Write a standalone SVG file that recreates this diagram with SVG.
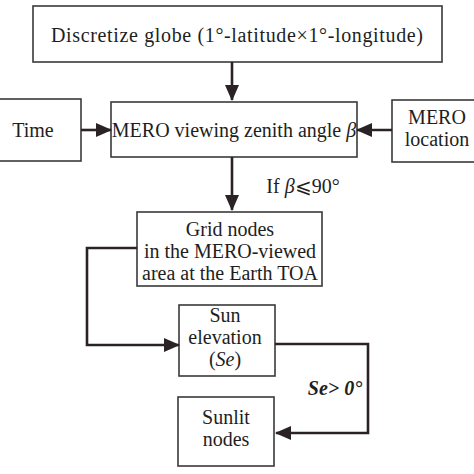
<svg xmlns="http://www.w3.org/2000/svg" width="474" height="474" viewBox="0 0 474 474">
<style>
.box{fill:#fff;stroke:#3a3a3a;stroke-width:1.6}
.t{font-family:"Liberation Serif","DejaVu Serif",serif;font-size:20px;fill:#1e1e1e;text-anchor:middle}
.c{fill:none;stroke:#2a2224;stroke-width:2.6}
</style>
<defs>
<marker id="ah2" markerWidth="16" markerHeight="14" refX="15" refY="7" orient="auto" markerUnits="userSpaceOnUse" viewBox="0 0 16 14">
<path d="M0,0 L16,7 L0,14 Z" fill="#2a2224"/>
</marker>
</defs>
<rect width="474" height="474" fill="#fff"/>
<g id="n1"><rect class="box" x="33" y="6" width="409" height="56"/><text class="t" x="237" y="42" textLength="372" lengthAdjust="spacing">Discretize globe (1°-latitude×1°-longitude)</text></g>
<g id="n2"><rect class="box" x="111" y="102" width="246" height="55"/><text class="t" x="234" y="137">MERO viewing zenith angle <tspan font-style="italic">β</tspan></text></g>
<g id="n3"><rect class="box" x="-2" y="99" width="83" height="62"/><text class="t" x="33" y="137">Time</text></g>
<g id="n4"><rect class="box" x="392" y="100" width="90" height="62"/><text class="t" x="437" y="124">MERO</text><text class="t" x="437" y="146">location</text></g>
<g id="n5"><rect class="box" x="137" y="212" width="185" height="74"/><text class="t" x="230" y="236">Grid nodes</text><text class="t" x="230" y="258">in the MERO-viewed</text><text class="t" x="230" y="280">area at the Earth TOA</text></g>
<g id="n6"><rect class="box" x="179" y="305" width="96" height="71"/><text class="t" x="225" y="322">Sun</text><text class="t" x="225" y="344">elevation</text><text class="t" x="225" y="366">(<tspan font-style="italic">Se</tspan>)</text></g>
<g id="n7"><rect class="box" x="178" y="397" width="96" height="69"/><text class="t" x="226" y="424">Sunlit</text><text class="t" x="226" y="446">nodes</text></g>
<g id="connectors">
<path class="c" d="M232,62 V100" marker-end="url(#ah2)"/>
<path class="c" d="M81,130 H111" marker-end="url(#ah2)"/>
<path class="c" d="M392,130 H357" marker-end="url(#ah2)"/>
<path class="c" d="M232,157 V210" marker-end="url(#ah2)"/>
<path class="c" d="M137,248 H87 V345 H179" marker-end="url(#ah2)"/>
<path class="c" d="M275,344 H368 V433 H276" marker-end="url(#ah2)"/>
</g>
<text class="t" x="303" y="193" font-size="21">If <tspan font-style="italic">β</tspan>⩽90°</text>
<text class="t" x="335" y="395" font-weight="bold" font-style="italic">Se&gt; 0°</text>
</svg>
